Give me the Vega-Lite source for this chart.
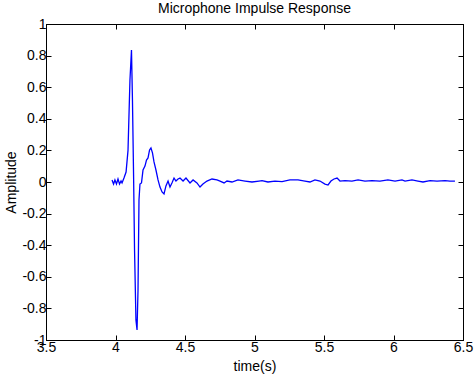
{
  "$schema": "https://vega.github.io/schema/vega-lite/v6.json",
  "autosize": "none",
  "width": 417,
  "height": 316,
  "padding": {"left": 46, "top": 24, "right": 11, "bottom": 34},
  "background": "white",
  "title": {"text": "Microphone Impulse Response", "fontSize": 14, "fontWeight": "normal", "font": "Liberation Sans", "color": "black", "offset": 1},
  "config": {
    "view": {"stroke": "black", "strokeWidth": 1},
    "axis": {"font": "Liberation Sans", "labelFont": "Liberation Sans", "titleFont": "Liberation Sans", "labelFontSize": 14, "titleFontSize": 14, "titleFontWeight": "normal", "labelColor": "black", "titleColor": "black", "domainColor": "black", "tickColor": "black", "grid": false, "tickSize": -5}
  },
  "data": {"values": [
    {"t": 3.975, "a": 0.013}, {"t": 3.986, "a": -0.013}, {"t": 3.996, "a": 0.013}, {"t": 4.007, "a": -0.013},
    {"t": 4.018, "a": 0.019}, {"t": 4.029, "a": -0.013}, {"t": 4.040, "a": 0.006}, {"t": 4.047, "a": -0.006},
    {"t": 4.061, "a": 0.025}, {"t": 4.076, "a": 0.063}, {"t": 4.090, "a": 0.20}, {"t": 4.104, "a": 0.646},
    {"t": 4.115, "a": 0.835}, {"t": 4.122, "a": 0.519}, {"t": 4.130, "a": 0.044}, {"t": 4.137, "a": -0.43},
    {"t": 4.147, "a": -0.873}, {"t": 4.155, "a": -0.937}, {"t": 4.162, "a": -0.684}, {"t": 4.169, "a": -0.114},
    {"t": 4.176, "a": -0.013}, {"t": 4.187, "a": -0.006}, {"t": 4.198, "a": 0.076}, {"t": 4.212, "a": 0.101},
    {"t": 4.223, "a": 0.139}, {"t": 4.234, "a": 0.152}, {"t": 4.245, "a": 0.203}, {"t": 4.255, "a": 0.215},
    {"t": 4.266, "a": 0.184}, {"t": 4.277, "a": 0.127}, {"t": 4.291, "a": 0.076}, {"t": 4.306, "a": 0.013},
    {"t": 4.320, "a": -0.032}, {"t": 4.335, "a": -0.063}, {"t": 4.349, "a": -0.076}, {"t": 4.363, "a": -0.025},
    {"t": 4.378, "a": 0.006}, {"t": 4.392, "a": -0.032}, {"t": 4.406, "a": -0.006}, {"t": 4.421, "a": 0.025},
    {"t": 4.435, "a": 0.006}, {"t": 4.450, "a": 0.019}, {"t": 4.464, "a": 0.025}, {"t": 4.486, "a": 0.006},
    {"t": 4.507, "a": 0.025}, {"t": 4.536, "a": -0.006}, {"t": 4.558, "a": 0.013}, {"t": 4.586, "a": -0.006},
    {"t": 4.608, "a": -0.032}, {"t": 4.629, "a": -0.013}, {"t": 4.658, "a": 0.006}, {"t": 4.694, "a": 0.019},
    {"t": 4.730, "a": 0.013}, {"t": 4.752, "a": 0.006}, {"t": 4.781, "a": -0.006}, {"t": 4.802, "a": 0.006},
    {"t": 4.838, "a": 0.0}, {"t": 4.881, "a": 0.013}, {"t": 4.932, "a": 0.006}, {"t": 4.982, "a": 0.0},
    {"t": 5.032, "a": 0.006}, {"t": 5.054, "a": 0.009}, {"t": 5.097, "a": 0.0}, {"t": 5.147, "a": 0.006},
    {"t": 5.198, "a": 0.003}, {"t": 5.255, "a": 0.013}, {"t": 5.313, "a": 0.013}, {"t": 5.363, "a": 0.006},
    {"t": 5.399, "a": 0.0}, {"t": 5.435, "a": 0.013}, {"t": 5.471, "a": 0.006}, {"t": 5.507, "a": -0.013},
    {"t": 5.529, "a": -0.019}, {"t": 5.550, "a": 0.006}, {"t": 5.572, "a": 0.019}, {"t": 5.594, "a": 0.025},
    {"t": 5.615, "a": 0.006}, {"t": 5.651, "a": 0.009}, {"t": 5.701, "a": 0.006}, {"t": 5.745, "a": 0.013},
    {"t": 5.795, "a": 0.006}, {"t": 5.845, "a": 0.009}, {"t": 5.903, "a": 0.006}, {"t": 5.960, "a": 0.013},
    {"t": 6.011, "a": 0.006}, {"t": 6.061, "a": 0.013}, {"t": 6.083, "a": 0.006}, {"t": 6.133, "a": 0.013},
    {"t": 6.176, "a": 0.006}, {"t": 6.212, "a": 0.0}, {"t": 6.263, "a": 0.009}, {"t": 6.313, "a": 0.006},
    {"t": 6.371, "a": 0.009}, {"t": 6.406, "a": 0.006}, {"t": 6.442, "a": 0.006}
  ]},
  "layer": [
    {
      "mark": {"type": "line", "color": "#0000ff", "strokeWidth": 1.3},
      "encoding": {
        "x": {"field": "t", "type": "quantitative", "scale": {"domain": [3.5, 6.5], "nice": false, "zero": false},
              "axis": {"orient": "bottom", "title": "time(s)", "values": [3.5, 4, 4.5, 5, 5.5, 6, 6.5], "labelExpr": "'' + datum.value", "labelPadding": 5, "titlePadding": 5, "labelFlush": false, "labelOverlap": false}},
        "y": {"field": "a", "type": "quantitative", "scale": {"domain": [-1, 1], "nice": false, "zero": false},
              "axis": {"orient": "left", "title": "Amplitude", "values": [-1, -0.8, -0.6, -0.4, -0.2, 0, 0.2, 0.4, 0.6, 0.8, 1], "labelExpr": "'' + datum.value", "labelPadding": 5, "titlePadding": 3, "labelFlush": false, "labelOverlap": false}}
      }
    },
    {
      "mark": {"type": "line", "opacity": 0},
      "encoding": {
        "x": {"field": "t", "type": "quantitative", "axis": {"orient": "top", "title": null, "labels": false, "values": [3.5, 4, 4.5, 5, 5.5, 6, 6.5]}},
        "y": {"field": "a", "type": "quantitative", "axis": {"orient": "right", "title": null, "labels": false, "values": [-1, -0.8, -0.6, -0.4, -0.2, 0, 0.2, 0.4, 0.6, 0.8, 1]}}
      }
    }
  ],
  "resolve": {"axis": {"x": "independent", "y": "independent"}}
}
